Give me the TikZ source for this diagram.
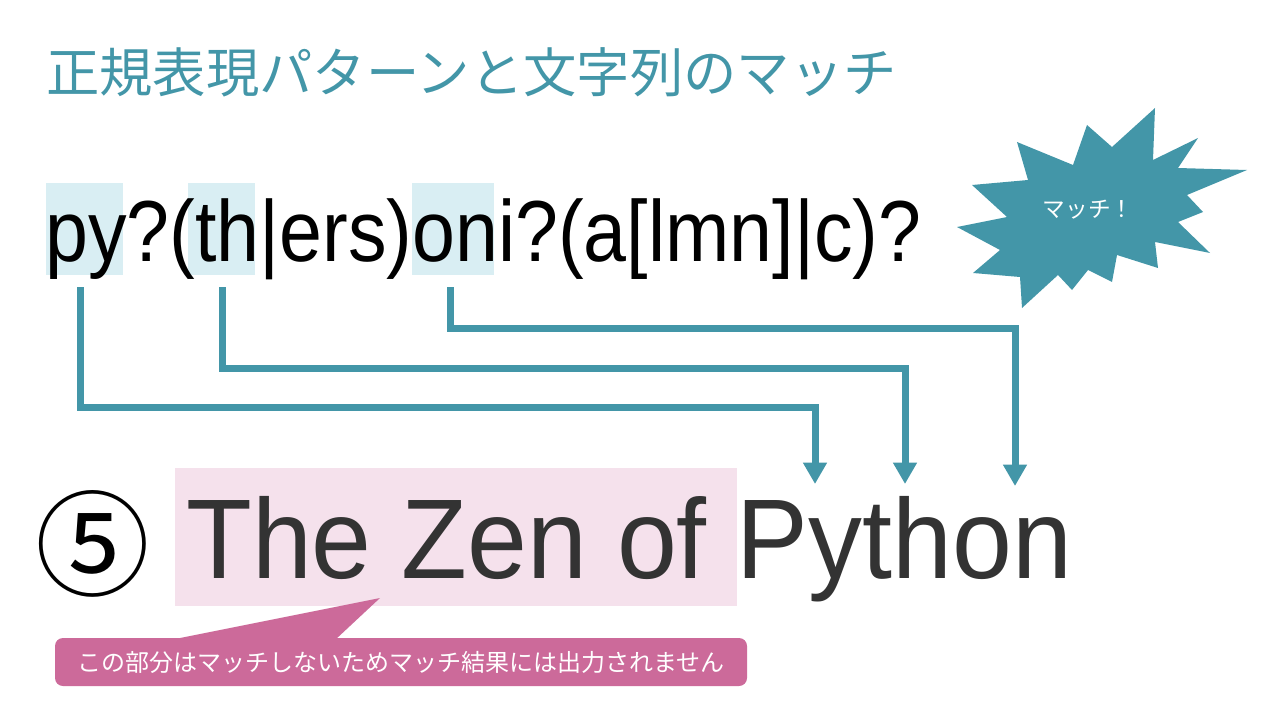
\documentclass[tikz,border=0pt]{standalone}
\usepackage{fontspec}
\setmainfont{Liberation Sans}
\newfontfamily\jpfont{Noto Sans CJK JP}
\newfontfamily\narrowfont[FakeStretch=0.89]{Liberation Sans}
\newfontfamily\zenfont[FakeStretch=0.95]{Liberation Sans}
\usetikzlibrary{arrows.meta,fit}
\definecolor{matchteal}{HTML}{4396A8}
\definecolor{hlblue}{HTML}{D9EEF3}
\definecolor{hlpink}{HTML}{F5E1EC}
\definecolor{notepink}{HTML}{CC6A9A}
\definecolor{zengray}{HTML}{333333}
\tikzset{
  hl/.style={fill=hlblue, inner sep=0pt},
  link/.style={line width=5.25pt, matchteal, -{Triangle[width=17pt,length=16pt]}}
}

\begin{document}
\begin{tikzpicture}[x=0.75pt,y=-0.75pt]
  \useasboundingbox (0,0) rectangle (1280,720);
  \node[anchor=west, inner sep=0pt, text=matchteal, font=\jpfont\fontsize{40}{42}\selectfont] (title) at (46,72) {正規表現パターンと文字列のマッチ};
  \node[hl, fit={(46,183) (123,275)}] (hlpy) {};
  \node[hl, fit={(188,183) (255,275)}] (hlth) {};
  \node[hl, fit={(412,183) (494,275)}] (hlon) {};
  \node[anchor=base west, inner sep=0pt, font=\narrowfont\fontsize{65}{70}\selectfont] (pattern) at (45,262) {py?(th|ers)oni?(a[lmn]|c)?};
  \fill[matchteal] (1155,108) -- (1153,160) -- (1198,138) -- (1178,168) -- (1247,170) -- (1187,195) -- (1203,212) -- (1178,222) -- (1210,253) -- (1155,242) -- (1158,268) -- (1117,255) -- (1112,282) -- (1088,270) -- (1072,290) -- (1058,275) -- (1022,308) -- (1020,277) -- (973,273) -- (1000,250) -- (957,227) -- (1007,217) -- (972,185) -- (1028,180) -- (1017,142) -- (1073,165) -- (1087,125) -- (1112,147) -- cycle;
  \node[text=white, font=\jpfont\fontsize{17}{19}\selectfont] (burst) at (1088,210) {マッチ！};
  \coordinate (py-out) at (80,287);
  \coordinate (th-out) at (222,287);
  \coordinate (on-out) at (450,287);
  \coordinate (P-in) at (815,484);
  \coordinate (th-in) at (905,484);
  \coordinate (on-in) at (1015,486);
  \draw[link] (py-out) -- ++(0,120) -| (P-in);
  \draw[link] (th-out) -- ++(0,81) -| (th-in);
  \draw[link] (on-out) -- ++(0,41) -| (on-in);
  \node[fill=hlpink, inner sep=0pt, fit={(175,468) (737,606)}] (nomatch) {};
  \node[inner sep=0pt, font=\jpfont\fontsize{86}{90}\selectfont] (num) at (93,544) {⑤};
  \node[anchor=base west, inner sep=0pt, text=zengray, font=\zenfont\fontsize{85}{90}\selectfont] (zen) at (186,578) {The Zen of Python};
  \fill[notepink] (170,640) -- (380,598) -- (335,640) -- cycle;
  \node[fill=notepink, rounded corners=6pt, inner sep=0pt, fit={(55,638) (747,686)}] (note) {};
  \node[text=white, font=\jpfont\fontsize{18}{20}\selectfont] (notetext) at (note.center) {この部分はマッチしないためマッチ結果には出力されません};
\end{tikzpicture}
\end{document}
